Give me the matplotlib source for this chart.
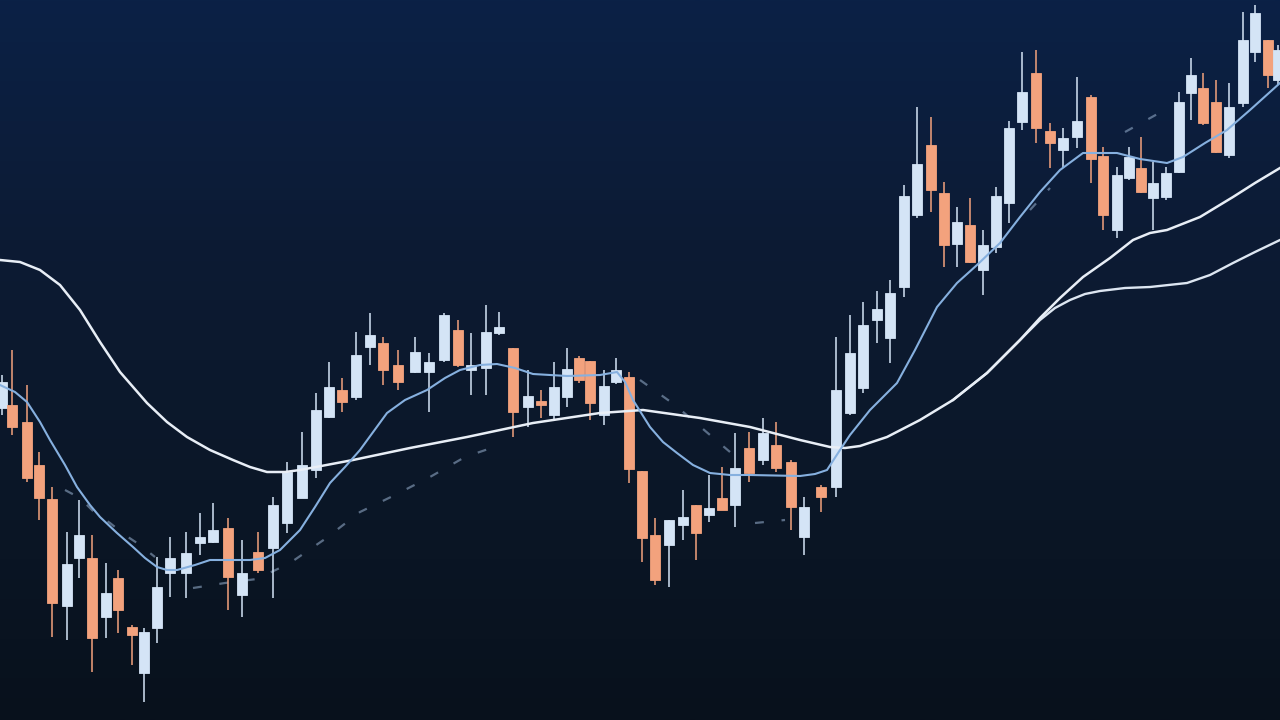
import numpy as np
import matplotlib.pyplot as plt
from matplotlib.colors import LinearSegmentedColormap

# candle times (irregular session spacing)
t = [2, 12, 27, 39, 52, 67, 79, 92, 106, 118, 132, 144, 157, 170, 186, 200,
     213, 228, 242, 258, 273, 287, 302, 316, 329, 342, 356, 370, 383, 398,
     415, 429, 444, 458, 471, 486, 499, 513, 528, 541, 554, 567, 579, 590,
     604, 616, 629, 642, 655, 669, 683, 696, 709, 722, 735, 749, 763, 776,
     791, 804, 821, 836, 850, 863, 877, 890, 904, 917, 931, 944, 957, 970,
     983, 996, 1009, 1022, 1036, 1050, 1063, 1077, 1091, 1103, 1117, 1129,
     1141, 1153, 1166, 1179, 1191, 1203, 1216, 1229, 1243, 1255, 1268, 1278]

opens = [312, 315, 298, 255, 221, 114, 162, 162, 103, 142, 93, 47, 92, 147, 147, 177,
         178, 192, 125, 168, 172, 197, 222, 250, 303, 330, 323, 373, 377, 355,
         348, 348, 360, 390, 350, 352, 387, 372, 313, 319, 305, 323, 362, 359,
         305, 338, 343, 249, 185, 175, 195, 215, 205, 222, 215, 272, 260, 275,
         258, 183, 233, 233, 307, 332, 400, 382, 433, 505, 575, 527, 476, 495,
         450, 473, 517, 598, 647, 589, 570, 583, 623, 564, 490, 542,
         552, 522, 523, 548, 627, 632, 618, 565, 617, 668, 680, 640]

closes = [338, 293, 242, 222, 117, 156, 185, 82, 127, 110, 85, 88, 133, 162, 167, 183,
          190, 143, 147, 150, 215, 248, 255, 310, 333, 318, 365, 385, 350, 338,
          368, 358, 405, 355, 355, 388, 393, 308, 324, 315, 333, 351, 340, 317,
          334, 350, 251, 182, 140, 200, 203, 187, 212, 210, 252, 247, 287, 252,
          213, 213, 223, 330, 367, 395, 411, 427, 524, 556, 530, 475, 498, 458,
          475, 524, 592, 628, 592, 577, 582, 599, 561, 505, 545, 563,
          528, 537, 547, 618, 645, 597, 568, 613, 680, 707, 645, 670]

highs = [345, 370, 335, 268, 233, 188, 220, 185, 157, 150, 95, 92, 163, 183, 188, 207,
         217, 202, 180, 188, 223, 258, 288, 327, 358, 342, 388, 407, 383, 370,
         383, 367, 407, 400, 387, 415, 408, 372, 350, 330, 358, 372, 364, 359,
         350, 362, 348, 249, 202, 200, 230, 215, 245, 253, 287, 288, 302, 298,
         260, 223, 235, 383, 405, 418, 429, 440, 535, 613, 603, 538, 513, 522,
         490, 533, 599, 668, 670, 597, 592, 643, 625, 573, 553, 573,
         583, 558, 553, 628, 662, 647, 640, 637, 708, 715, 680, 675]

lows = [305, 285, 238, 200, 83, 80, 142, 48, 82, 87, 55, 18, 77, 123, 122, 165,
        177, 110, 103, 147, 122, 187, 222, 242, 302, 308, 320, 355, 335, 330,
        347, 308, 358, 353, 325, 325, 385, 283, 293, 302, 300, 313, 337, 300,
        295, 336, 237, 158, 135, 133, 180, 160, 198, 210, 193, 238, 255, 248,
        190, 165, 208, 223, 305, 327, 377, 357, 423, 502, 508, 453, 453, 457,
        425, 467, 497, 590, 577, 552, 552, 572, 537, 490, 482, 540,
        527, 490, 520, 547, 600, 595, 567, 562, 613, 658, 632, 635]

# slow average (white)
slow_t = [0, 20, 40, 60, 80, 100, 120, 147, 167, 187, 210, 233, 250, 267, 285,
          300, 353, 410, 467, 533, 600, 643, 700, 750, 800, 830, 845, 860, 887,
          920, 953, 987, 1020, 1040, 1060, 1083, 1110, 1133, 1150, 1167, 1200,
          1233, 1255, 1280]
slow_v = [460, 458, 450, 435, 410, 378, 348, 317, 298, 283, 270, 260, 253, 248, 248,
          250, 260, 272, 283, 297, 307, 310, 302, 293, 280, 273, 272, 274, 283,
          300, 320, 347, 380, 402, 422, 443, 462, 480, 487, 490, 503,
          523, 537, 552]

# long average (white, splits off on the right)
long_t = [953, 987, 1020, 1040, 1055, 1070, 1085, 1100, 1125, 1150, 1187, 1210,
          1233, 1255, 1280]
long_v = [320, 347, 380, 400, 412, 420, 426, 429, 432, 433, 437, 445,
          457, 468, 480]

# fast average (blue)
fast_t = [0, 15, 27, 40, 50, 65, 77, 90, 100, 117, 133, 145, 157, 167, 177, 195,
          210, 250, 265, 280, 300, 315, 330, 345, 360, 387, 405, 427, 445, 460,
          480, 497, 515, 533, 567, 600, 617, 625, 633, 650, 663, 677, 693, 710,
          730, 750, 800, 815, 827, 840, 850, 870, 897, 915, 937, 957, 977, 1000,
          1020, 1040, 1060, 1083, 1117, 1140, 1167, 1183, 1205, 1227, 1250, 1280]
fast_v = [335, 328, 318, 298, 280, 255, 233, 215, 203, 187, 173, 162, 153, 150, 150, 155,
          160, 160, 162, 170, 190, 213, 237, 253, 270, 307, 320, 330, 342, 350,
          355, 356, 352, 346, 344, 345, 348, 338, 320, 293, 278, 267, 255, 247,
          245, 245, 244, 246, 250, 270, 285, 310, 337, 370, 413, 437, 455, 477,
          503, 528, 550, 567, 567, 561, 557, 563, 577, 590, 610, 637]

# faint dashed average (gaps as nan)
dash_t = [65, 80, 95, 110, 125, 140, 155, np.nan,
          193, 225, 257, 290, 325, 360, 395, 430, 465, 500, np.nan,
          640, 675, 710, 730, np.nan, 755, 785, np.nan,
          1030, 1050, np.nan, 1125, 1170]
dash_v = [230, 222, 207, 197, 185, 175, 163, np.nan,
          132, 137, 141, 157, 181, 208, 225, 243, 263, 275, np.nan,
          340, 315, 285, 268, np.nan, 197, 200, np.nan,
          510, 532, np.nan, 588, 613]

up_col = '#d4e4f6'
down_col = '#f3a27d'

fig = plt.figure(figsize=(12.8, 7.2), dpi=100)
ax = fig.add_axes([0, 0, 1, 1])
ax.set_xlim(0, 1280)
ax.set_ylim(0, 720)
ax.axis('off')

# background gradient
bg = LinearSegmentedColormap.from_list('bg', ['#08111c', '#0b1728', '#0d1b34', '#0b2146'])
grad = np.linspace(0, 1, 256).reshape(-1, 1)
ax.imshow(grad, cmap=bg, origin='lower', aspect='auto', extent=[0, 1280, 0, 720], zorder=0)

o = np.array(opens)
c = np.array(closes)
cols = [up_col if cc >= oo else down_col for oo, cc in zip(o, c)]

ax.vlines(t, lows, highs, colors=cols, linewidth=1.1, zorder=3)
body_h = np.maximum(np.abs(c - o), 3)
ax.bar(t, body_h, bottom=np.minimum(o, c), width=9.5, color=cols, edgecolor=cols,
       linewidth=0.6, zorder=4)

ax.plot(dash_t, dash_v, color='#8ea6c4', lw=1.6, alpha=0.6, ls=(0, (4, 8)), zorder=2)
ax.plot(long_t, long_v, color='#dde6f1', lw=1.7, zorder=5, solid_joinstyle='round')
ax.plot(slow_t, slow_v, color='#e8eef6', lw=1.8, zorder=5, solid_joinstyle='round')
ax.plot(fast_t, fast_v, color='#86b0df', lw=1.5, zorder=5, solid_joinstyle='round')

fig.savefig('out.png', dpi=100)
